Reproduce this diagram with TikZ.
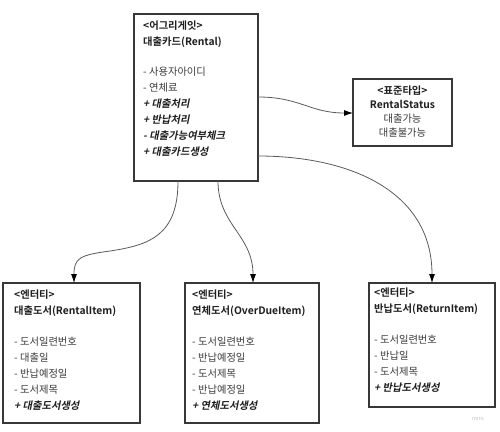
\documentclass[tikz,border=0pt]{standalone}
\usepackage{fontspec}
\setmainfont{Noto Sans CJK KR}[
  BoldFont={Noto Sans CJK KR Bold},
  ItalicFont={Noto Sans CJK KR},
  ItalicFeatures={FakeSlant=0.2},
  BoldItalicFont={Noto Sans CJK KR Bold},
  BoldItalicFeatures={FakeSlant=0.2}]
\usetikzlibrary{arrows.meta}

\definecolor{boxline}{HTML}{383838}
\definecolor{linkgray}{HTML}{5A5A5A}
\definecolor{headcol}{HTML}{1E1E1E}
\definecolor{txtgray}{HTML}{3A3A3A}

\newcommand{\hd}[1]{{\color{headcol}\bfseries #1}}
\newcommand{\op}[1]{{\color{headcol}\bfseries\itshape #1}}

\tikzset{
  umlbox/.style={draw=boxline, line width=1.3pt, anchor=north west,
    inner sep=0pt, outer sep=0pt},
  umltext/.style={anchor=north west, align=left, inner sep=0pt,
    font=\fontsize{10.3}{16}\selectfont, text=txtgray},
  link/.style={draw=linkgray, line width=0.8pt,
    -{Latex[length=9pt,width=6pt,color=black]}}
}

\begin{document}
\begin{tikzpicture}[x=1pt,y=-1pt]

\useasboundingbox (0,0) rectangle (500,431);

% boxes
\node[umlbox, minimum width=124pt, minimum height=167pt] (rental) at (134,14) {};
\node[umlbox, minimum width=99pt, minimum height=67pt] (status) at (353,79) {};
\node[umlbox, minimum width=137pt, minimum height=140pt] (ritem) at (3,283) {};
\node[umlbox, minimum width=134pt, minimum height=140pt] (oitem) at (185,283) {};
\node[umlbox, minimum width=126pt, minimum height=124pt] (retitem) at (369,283) {};

% texts
\node[umltext] (rentaltxt) at (143,21) {%
  \hd{<어그리게잇>}\\ \hd{대출카드(Rental)}\\[14pt]
  - 사용자아이디\\ - 연체료\\
  \op{+ 대출처리}\\ \op{+ 반납처리}\\
  \op{- 대출가능여부체크}\\ \op{+ 대출카드생성}};

\node[umltext, anchor=north, align=center,
  font=\fontsize{10.3}{14}\selectfont] (statustxt) at ([yshift=-7pt]status.north) {%
  \hd{<표준타입>}\\ \hd{RentalStatus}\\ 대출가능\\ 대출불가능};

\node[umltext] (ritemtxt) at (14,290) {%
  \hd{<엔터티>}\\ \hd{대출도서(RentalItem)}\\[15pt]
  - 도서일련번호\\ - 대출일\\ - 반납예정일\\ - 도서제목\\
  \op{+ 대출도서생성}};

\node[umltext] (oitemtxt) at (192,290) {%
  \hd{<엔터티>}\\ \hd{연체도서(OverDueItem)}\\[15pt]
  - 도서일련번호\\ - 반납예정일\\ - 도서제목\\ - 반납예정일\\
  \op{+ 연체도서생성}};

\node[umltext] (retitemtxt) at (374,288) {%
  \hd{<엔터티>}\\ \hd{반납도서(ReturnItem)}\\[15pt]
  - 도서일련번호\\ - 반납일\\ - 도서제목\\
  \op{+ 반납도서생성}};

\node[anchor=base, inner sep=0pt, text=gray!45,
  font=\fontsize{5.5}{6}\selectfont] (miro) at (478,420) {miro};

% connectors
\draw[link] ([yshift=-83pt]rental.north east)
  .. controls +(42,0) and +(-43,0) .. ([yshift=-34pt]status.north west);
\draw[link] ([xshift=44pt]rental.south west)
  .. controls +(0,54) and +(40,-6) .. (110,251)
  .. controls +(-30,4) and +(0,-25) .. ([xshift=71pt]ritem.north west);
\draw[link] ([xshift=84pt]rental.south west)
  .. controls +(0,44) and +(0,-48) .. ([xshift=68pt]oitem.north west);
\draw[link] ([yshift=25pt]rental.south east)
  .. controls +(90,0) and +(0,-93) .. ([xshift=63pt]retitem.north west);

\end{tikzpicture}
\end{document}
